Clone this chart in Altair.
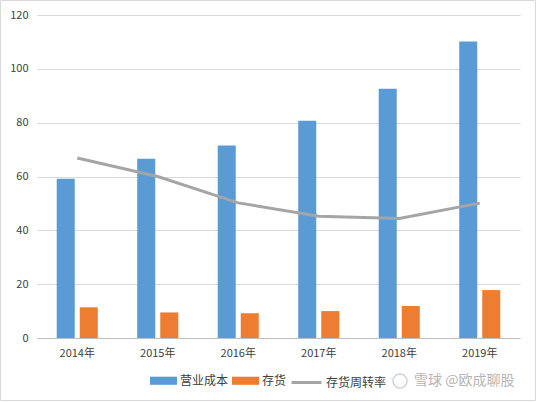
import altair as alt
import pandas as pd

years = ["2014年", "2015年", "2016年", "2017年", "2018年", "2019年"]
cost = [59.2, 66.6, 71.5, 80.7, 92.6, 110.2]
inventory = [11.4, 9.5, 9.2, 10.0, 11.9, 17.8]
turnover = [66.9, 60.0, 50.2, 45.2, 44.4, 50.1]

series_bar = ["营业成本", "存货"]
series_line = "存货周转率"
bar_colors = ["#5b9bd5", "#ed7d31"]
line_color = "#a5a5a5"
y_ticks = [0, 20, 40, 60, 80, 100, 120]
watermark = "雪球 @欧成聊股"

rows = []
for yr, c, inv in zip(years, cost, inventory):
    rows.append({"year": yr, "series": series_bar[0], "value": c})
    rows.append({"year": yr, "series": series_bar[1], "value": inv})
bars_df = pd.DataFrame(rows)
line_df = pd.DataFrame({"year": years, "lseries": series_line, "value": turnover})

FONT = "Noto Sans CJK SC"
x_scale = alt.Scale(domain=years, paddingInner=0.49, paddingOuter=0.245)
y_scale = alt.Scale(domain=[0, 120], nice=False)

x_axis = alt.Axis(title=None, labelAngle=0, ticks=False, domain=True, domainColor="#bfbfbf",
                  grid=False, labelFontSize=11, labelColor="#404040", labelPadding=9, labelFont=FONT)
y_axis = alt.Axis(title=None, values=y_ticks, ticks=False, domain=False, gridColor="#d9d9d9",
                  labelFontSize=11, labelColor="#404040", labelPadding=9, labelFont=FONT)

bars = alt.Chart(bars_df).mark_bar().encode(
    x=alt.X("year:N", scale=x_scale, axis=x_axis, sort=years),
    xOffset=alt.XOffset("series:N", sort=series_bar,
                        scale=alt.Scale(domain=series_bar, paddingInner=0.217)),
    y=alt.Y("value:Q", scale=y_scale, axis=y_axis),
    color=alt.Color("series:N", scale=alt.Scale(domain=series_bar, range=bar_colors),
                    legend=alt.Legend(orient="none", legendX=113, legendY=352, direction="horizontal",
                                      title=None, symbolType="M-1,-0.3L1,-0.3L1,0.3L-1,0.3Z",
                                      symbolSize=729, symbolStrokeWidth=0, labelFontSize=12,
                                      labelFont=FONT, labelColor="#404040", labelOffset=3,
                                      columnPadding=3)),
)

line = alt.Chart(line_df).mark_line(strokeWidth=3).encode(
    x=alt.X("year:N", scale=x_scale, axis=x_axis, sort=years),
    y=alt.Y("value:Q", scale=y_scale, axis=y_axis),
    stroke=alt.Stroke("lseries:N", scale=alt.Scale(domain=[series_line], range=[line_color]),
                      legend=alt.Legend(orient="none", legendX=253, legendY=351, direction="horizontal",
                                        title=None, symbolSize=900, symbolStrokeWidth=3,
                                        labelFontSize=12, labelFont=FONT, labelColor="#404040",
                                        labelOffset=3)),
)

wm_df = pd.DataFrame({"t": [watermark]})
wm_text = alt.Chart(wm_df).mark_text(align="left", baseline="middle", fontSize=14, font=FONT,
                                     color="#b5b5b5").encode(
    x=alt.value(377), y=alt.value(366), text="t:N")
wm_logo = alt.Chart(wm_df).mark_point(shape="circle", size=200, color="#c0c0c0", strokeWidth=1.5).encode(
    x=alt.value(363), y=alt.value(366))

border = alt.Chart(wm_df).mark_rect(fillOpacity=0, stroke="#d9d9d9", strokeWidth=1).encode(
    x=alt.value(-36.5), x2=alt.value(498.5), y=alt.value(-14.5), y2=alt.value(385.5))

chart = alt.layer(bars, line, wm_logo, wm_text, border).properties(
    width=483, height=323,
    autosize=alt.AutoSizeParams(type="none"),
    padding={"left": 37, "top": 15, "right": 16, "bottom": 64},
    background="white",
).configure_view(strokeWidth=0)

chart.save("out.html", embed_options={"renderer": "svg", "actions": False})
